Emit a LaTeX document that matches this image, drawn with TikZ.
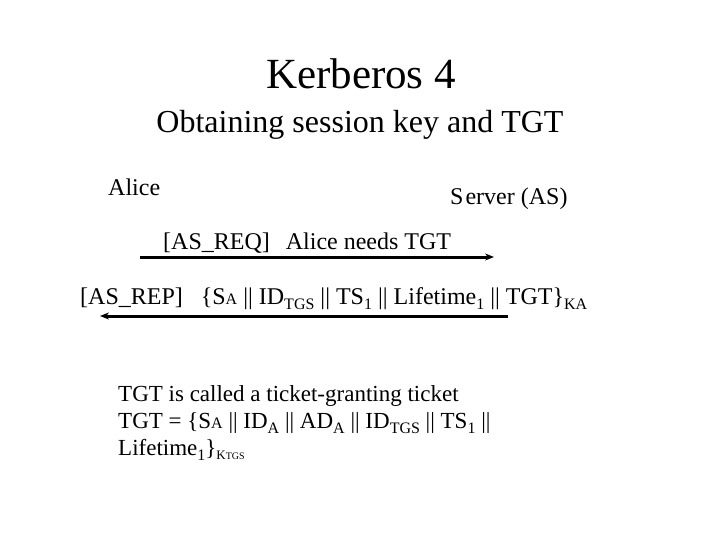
\documentclass[tikz,border=0pt]{standalone}
\usepackage{fontspec}
\setmainfont{Liberation Serif}
\usetikzlibrary{arrows.meta}
\newcommand{\lowsub}[1]{\raisebox{-5pt}{\fontsize{16}{16}\selectfont #1}}
\newcommand{\smallsame}[1]{{\fontsize{16}{16}\selectfont #1}}
\newcommand{\tinysub}[1]{\raisebox{-4pt}{\fontsize{13}{13}\selectfont K\fontsize{10}{10}\selectfont #1}}
\tikzset{
  txt/.style={inner sep=0pt, font=\fontsize{24}{27}\selectfont},
  msg/.style={line width=3pt, -{Stealth[length=9pt,width=7pt]}}
}
\begin{document}
\begin{tikzpicture}[x=1pt,y=1pt]
\useasboundingbox (0,0) rectangle (720,-540);
\node[inner sep=0pt, font=\fontsize{43}{43}\selectfont, anchor=base] (title) at (361,-89) {Kerberos 4};
\node[inner sep=0pt, font=\fontsize{32}{32}\selectfont, anchor=base] (sub) at (360,-133) {Obtaining session key and TGT};
\node[txt, anchor=base west] (alice) at (108,-196) {Alice};
\node[txt, anchor=base west] (server) at (450,-205) {S\hspace{2pt}erver (AS)};
\node[txt, anchor=base west] (req) at (163,-249) {[AS\_REQ]\hspace{16pt}Alice needs TGT};
\coordinate (reqA) at (140,-257);
\coordinate (reqB) at (494,-257);
\draw[msg] (reqA) -- (reqB);
\node[txt, anchor=base west] (rep) at (80,-304) {[AS\_REP]\hspace{18pt}\{S\smallsame{A} || ID\lowsub{TGS} || TS\lowsub{1} || Lifetime\lowsub{1} || TGT\}\lowsub{K\smallsame{A}}};
\coordinate (repA) at (508,-316);
\coordinate (repB) at (100,-316);
\draw[msg] (repA) -- (repB);
\node[inner sep=0pt, font=\fontsize{23}{27}\selectfont, anchor=north west, align=left] (note) at (118,-385) {TGT is called a ticket-granting ticket\\
TGT = \{S\smallsame{A} || ID\lowsub{A} || AD\lowsub{A} || ID\lowsub{TGS} || TS\lowsub{1} ||\\
Lifetime\lowsub{1}\}\tinysub{TGS}};
\end{tikzpicture}
\end{document}
